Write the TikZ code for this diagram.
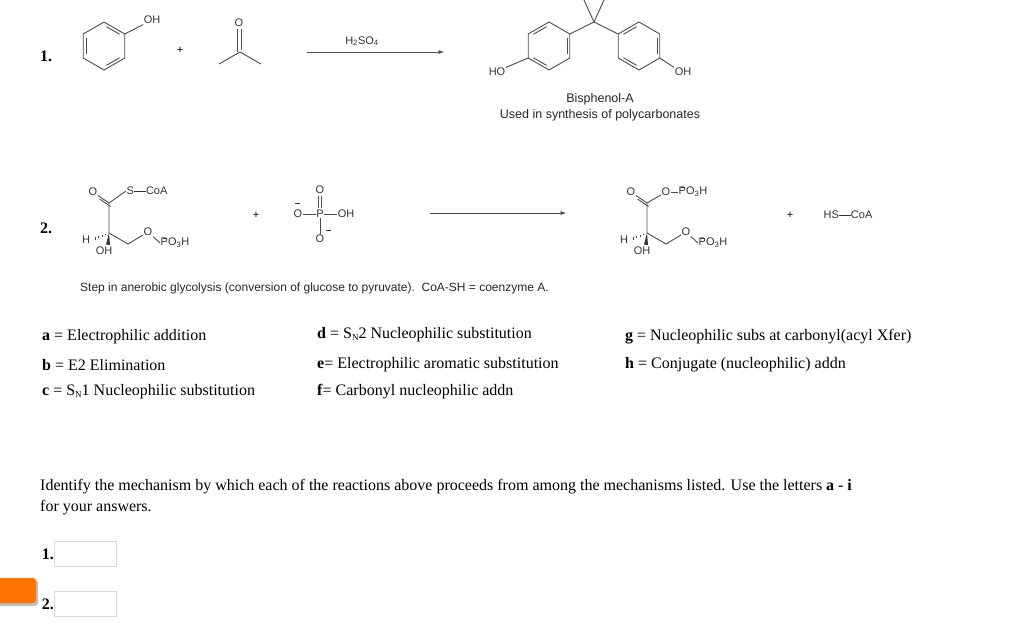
\documentclass[tikz,border=0pt]{standalone}
\usepackage{fontspec}
\setmainfont{Liberation Serif}
\newfontfamily\chemf{Liberation Sans}
\newcommand\benzring[3]{%
\begin{scope}[shift={(#1,#2)}]
\draw[bd] (90:24) -- (30:24) -- (-30:24) -- (-90:24) -- (-150:24) -- (150:24) -- cycle;
\foreach \a in {#3} \draw[bd] (\a-7:19.5) -- (\a-53:19.5);
\end{scope}}
\newcommand\glycmol[1]{%
\coordinate (cc) at (109,203);
\coordinate (sc) at (109,233);
\coordinate (ch) at (128,244);
\node[ch] (oa) at (93,192) {O};
\node[ch] (ob) at (148,232) {O};
\node[ch] (hh) at (86,240) {H};
\node[ch] (oh) at (104,251) {OH};
\node[ch,anchor=west] (pp) at (160,243) {P\raisebox{1.2ex}{\llap{\rule{4pt}{0.6pt}\kern1pt}}O\textsubscript{3}H};
\draw[bd] (cc) -- (98,195.5); \draw[bd] (110.5,206.5) -- (99.5,199);
\draw[bd] (cc) -- (sc) -- (ch) -- (ob);
\draw[bd] (ob) -- (pp.west);
\fill[black!80] (sc) -- (106,244.5) -- (110,245) -- cycle;
\foreach \t in {0.25,0.45,0.65,0.85} \draw[black!75,line width=0.6pt] ($(sc)!\t!(93,239)+(0,-1.8*\t)$) -- ($(sc)!\t!(93,239)+(0,1.8*\t)$);
#1}
\usetikzlibrary{calc}
\begin{document}
\begin{tikzpicture}[x=1pt,y=-1pt,
  bd/.style={line width=0.9pt,black!70},
  ch/.style={font=\chemf\fontsize{11}{11}\selectfont,text=black!80,inner sep=0.5pt},
  capt/.style={font=\chemf\fontsize{12.5}{13}\selectfont,text=black!85,inner sep=0pt},
  tx/.style={font=\fontsize{16}{18}\selectfont,anchor=west,inner sep=0pt},
  num/.style={font=\bfseries\fontsize{16}{18}\selectfont,inner sep=0pt},
  pl/.style={font=\chemf\fontsize{11}{11}\selectfont,inner sep=0pt},
  box/.style={draw=black!15,line width=0.8pt}]
\useasboundingbox (0,0) rectangle (1024,635);
% ---------- reaction 1
\node[num] (n1) at (46,56) {1.};
\benzring{104}{46}{90,-30,-150}
\node[ch] (oh1) at (152,20) {OH};
\draw[bd] (124.8,34) -- (oh1.south west);
\node[pl] (p1) at (180,50) {+};
\node[ch] (oac) at (239,23) {O};
\coordinate (cac) at (240,52);
\draw[bd] (237.5,29) -- (237.5,52); \draw[bd] (241.5,29) -- (241.5,50);
\draw[bd] (219,64) -- (cac) -- (261,64);
\node[ch] (h2so4) at (362,41) {H\textsubscript{2}SO\textsubscript{4}};
\coordinate (a1s) at (307,52); \coordinate (a1e) at (444,52);
\draw[line width=0.9pt,black!70,-latex] (a1s) -- (a1e);
\benzring{549}{46}{30,-90,150}
\benzring{639}{46}{30,-90,150}
\coordinate (cq) at (594,22);
\draw[bd] (569.8,34) -- (cq) -- (618.2,34);
\draw[bd] (584,0) -- (cq) -- (604,0);
\node[ch] (ho) at (497,72) {HO};
\node[ch] (oh2) at (683,72) {OH};
\draw[bd] (528.2,58) -- (ho.north east);
\draw[bd] (659.8,58) -- (oh2.north west);
\node[capt] (bpa) at (600,99) {Bisphenol-A};
\node[capt] (use) at (600,115) {Used in synthesis of polycarbonates};
% ---------- reaction 2
\node[num] (n2) at (46,228) {2.};
\glycmol{\node[ch,anchor=west] (scoa) at (126,191) {S\rule[0.5ex]{12pt}{0.7pt}CoA};
\draw[bd] (cc) -- (scoa.west);}
\node[pl] (p2) at (256,215) {+};
\node[ch] (po1) at (320,190) {O};
\node[ch] (pp2) at (320,214) {P};
\node[ch] (pol) at (298,214) {O};
\node[ch] (poh) at (346,214) {OH};
\node[ch] (pob) at (320,239) {O};
\node[ch] at (297,203) {\rule{5pt}{0.6pt}};
\node[ch] at (328,230) {\rule{5pt}{0.6pt}};
\draw[bd] (318.3,196) -- (318.3,208); \draw[bd] (321.7,196) -- (321.7,208);
\draw[bd] (pol) -- (pp2) -- (poh); \draw[bd] (pp2) -- (pob);
\coordinate (a2s) at (430,213); \coordinate (a2e) at (566,213);
\draw[line width=0.9pt,black!70,-latex] (a2s) -- (a2e);
\begin{scope}[xshift=538pt]
\glycmol{\node[ch] (o3) at (128,192) {O};
\node[ch,anchor=west] (po3) at (140,192) {P\raisebox{1.2ex}{\llap{\rule{4pt}{0.6pt}\kern1pt}}O\textsubscript{3}H};
\draw[bd] (cc) -- (o3); \draw[bd] (o3) -- (po3.west);}
\end{scope}
\node[pl] (p3) at (790,215) {+};
\node[ch] (hscoa) at (848,215) {HS\rule[0.5ex]{12pt}{0.7pt}CoA};
\node[capt,anchor=west,font=\chemf\fontsize{12}{13}\selectfont] (step) at (80,288) {Step in anerobic glycolysis (conversion of glucose to pyruvate).\ \ CoA-SH = coenzyme A.};
% ---------- mechanisms
\node[tx] (ma) at (42,337) {\textbf{a} = Electrophilic addition};
\node[tx] (mb) at (42,365) {\textbf{b} = E2 Elimination};
\node[tx] (mc) at (42,392) {\textbf{c} = S\raisebox{-2pt}{\small N}1 Nucleophilic substitution};
\node[tx] (md) at (317,335) {\textbf{d} = S\raisebox{-2pt}{\small N}2 Nucleophilic substitution};
\node[tx] (me) at (317,365) {\textbf{e}= Electrophilic aromatic substitution};
\node[tx] (mf) at (317,392) {\textbf{f}= Carbonyl nucleophilic addn};
\node[tx] (mg) at (625,337) {\textbf{g} = Nucleophilic subs at carbonyl(acyl Xfer)};
\node[tx] (mh) at (625,365) {\textbf{h} = Conjugate (nucleophilic) addn};
\node[tx] (q1) at (40,487) {Identify the mechanism by which each of the reactions above proceeds from among the mechanisms listed. Use the letters \textbf{a} - \textbf{i}};
\node[tx] (q2) at (40,508) {for your answers.};
\node[num,anchor=east] (l1) at (54,554) {1.};
\node[num,anchor=east] (l2) at (54,604) {2.};
\draw[box] (54.5,541.5) rectangle (116,566);
\draw[box] (54.5,591.5) rectangle (116,616);
\fill[black!25,rounded corners=3pt] (-4,580) rectangle (38,606);
\fill[orange!90!red,rounded corners=3pt] (-4,578) rectangle (36,603);
\end{tikzpicture}
\end{document}
